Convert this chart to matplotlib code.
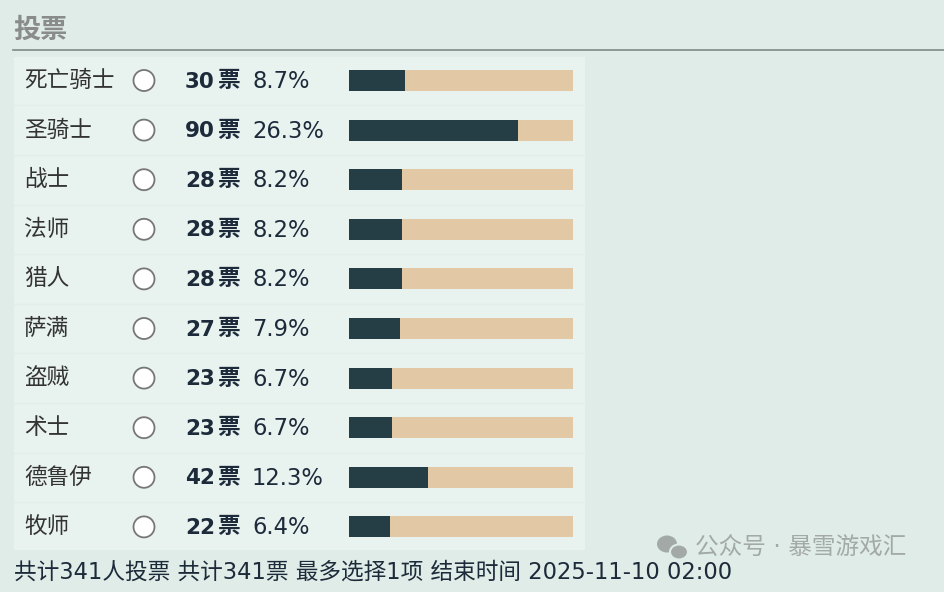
import matplotlib.pyplot as plt
import matplotlib.patches as patches

plt.rcParams['font.family'] = ['DejaVu Sans', 'Noto Sans CJK SC']

# poll data
names = ["死亡骑士", "圣骑士", "战士", "法师", "猎人", "萨满", "盗贼", "术士", "德鲁伊", "牧师"]
votes = [30, 90, 28, 28, 28, 27, 23, 23, 42, 22]
pcts = [8.7, 26.3, 8.2, 8.2, 8.2, 7.9, 6.7, 6.7, 12.3, 6.4]
title = "投票"
footer = "共计341人投票 共计341票 最多选择1项 结束时间 2025-11-10 02:00"
watermark = "公众号 · 暴雪游戏汇"

bg = "#dfece7"
row_bg = "#e8f2ef"
dark = "#253e45"
tan = "#e3c8a6"
cjk = ['Noto Sans CJK SC', 'DejaVu Sans']

fig = plt.figure(figsize=(9.44, 5.92), dpi=100, facecolor=bg)
ax = fig.add_axes([0, 0, 1, 1])
ax.set_xlim(0, 944)
ax.set_ylim(592, 0)
ax.axis("off")

# header
ax.text(13, 30, title, fontsize=19.5, fontweight="bold", color="#8a8c8b", va="center", family=cjk)
ax.plot([13, 944], [50, 50], color="#7d8a86", lw=1.2)

# table background
ax.add_patch(patches.Rectangle((14, 57), 571, 493, facecolor=row_bg, edgecolor="none"))

row0, step = 80.5, 49.6
bar_x, bar_w, bar_h = 349, 224, 21
bar_max = 119  # votes that would fill the whole bar
ys = [row0 + i * step for i in range(len(names))]

for i, y in enumerate(ys):
    if i > 0:
        ax.plot([14, 585], [y - step / 2, y - step / 2], color="#e2eeea", lw=1)
    ax.text(24, y, names[i], fontsize=16.3, color="#333333", va="center", family=cjk)
    ax.add_patch(patches.Circle((144, y), 10.5, facecolor="white", edgecolor="#777777", lw=1.3))
    ax.text(185, y + 1, f"{votes[i]}", fontsize=15.5, fontweight="bold", color="#1c2a3a", va="center")
    ax.text(217.5, y, "票", fontsize=16.3, fontweight="bold", color="#1c2a3a", va="center", family=cjk)
    ax.text(252, y + 1, f"{pcts[i]}%", fontsize=16.3, color="#1c2a3a", va="center")

# bars: track and fill
ax.barh(ys, [bar_w] * len(ys), left=bar_x, height=bar_h, color=tan)
ax.barh(ys, [v / bar_max * bar_w for v in votes], left=bar_x, height=bar_h, color=dark)

# footer
ax.text(14, 572, footer, fontsize=16.3, color="#1c2a3a", va="center")

# watermark with a simple chat icon
ax.add_patch(patches.Ellipse((667, 544), 20, 17, facecolor="#a3a9a6", edgecolor="none"))
ax.add_patch(patches.Ellipse((679, 552), 18, 15, facecolor="#a3a9a6", edgecolor=bg, lw=1.5))
ax.text(695, 548, watermark, fontsize=17, color="#a3a9a6", va="center")

fig.savefig("out.png", dpi=100, facecolor=bg)
